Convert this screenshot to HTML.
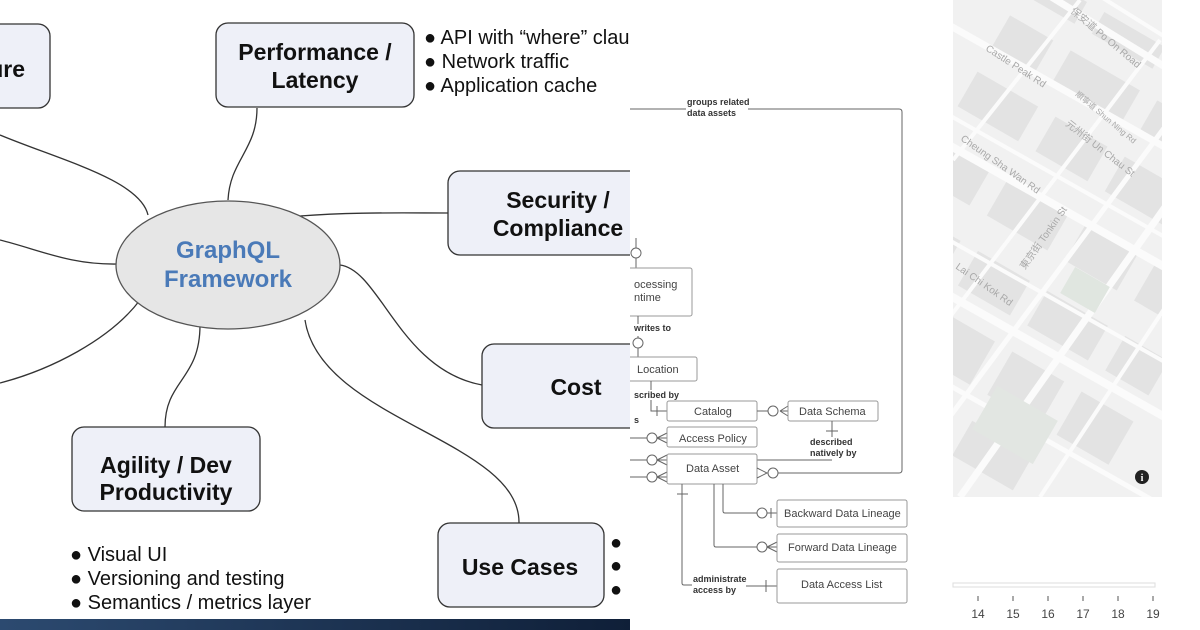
<!DOCTYPE html>
<html><head><meta charset="utf-8"><style>
html,body{margin:0;padding:0;background:#fff;}
svg{display:block;font-family:"Liberation Sans","Noto Sans CJK SC",sans-serif;}
.b{font-weight:bold;fill:#111;font-size:23px;text-anchor:middle;}
.bl{font-size:20px;fill:#111;}
.er{font-size:11px;fill:#444;}
.el{font-size:9px;font-weight:bold;fill:#333;}
.erbox{fill:#fff;stroke:#999;stroke-width:1;}
.ln{fill:none;stroke:#666;stroke-width:1;}
.mm{fill:none;stroke:#333;stroke-width:1.3;}
.box{fill:#eef0f8;stroke:#333;stroke-width:1.3;}
</style></head><body>
<svg width="1200" height="630" viewBox="0 0 1200 630" xmlns="http://www.w3.org/2000/svg">
<defs><clipPath id="lc"><rect x="0" y="0" width="630" height="630"/></clipPath>
<clipPath id="mc"><rect x="953" y="0" width="209" height="497"/></clipPath>
<clipPath id="ec"><rect x="630" y="0" width="323" height="630"/></clipPath>
<linearGradient id="bar" x1="0" x2="1"><stop offset="0" stop-color="#2c4a70"/><stop offset="1" stop-color="#0f1f38"/></linearGradient></defs>

<g clip-path="url(#lc)">
<path class="mm" d="M0,135 C60,160 140,180 148,215"/>
<path class="mm" d="M0,240 C40,250 70,265 118,264"/>
<path class="mm" d="M0,383 C50,370 110,340 140,300"/>
<path class="mm" d="M257,108 C257,150 230,160 228,200"/>
<path class="mm" d="M300,216 C350,212 400,213 448,213"/>
<path class="mm" d="M340,265 C380,270 400,370 482,385"/>
<path class="mm" d="M200,325 C200,380 165,380 165,427"/>
<path class="mm" d="M305,320 C320,420 520,440 519,523"/>
<rect class="box" x="-20" y="24" width="70" height="84" rx="12"/>
<text class="b" x="25" y="77" style="text-anchor:end">ure</text>
<rect class="box" x="216" y="23" width="198" height="84" rx="12"/>
<text class="b" x="315" y="60">Performance /</text>
<text class="b" x="315" y="88">Latency</text>
<rect class="box" x="448" y="171" width="200" height="84" rx="12"/>
<text class="b" x="558" y="208">Security /</text>
<text class="b" x="558" y="236">Compliance</text>
<rect class="box" x="482" y="344" width="170" height="84" rx="12"/>
<text class="b" x="576" y="395">Cost</text>
<rect class="box" x="72" y="427" width="188" height="84" rx="12"/>
<text class="b" x="166" y="473">Agility / Dev</text>
<text class="b" x="166" y="500">Productivity</text>
<rect class="box" x="438" y="523" width="166" height="84" rx="12"/>
<text class="b" x="520" y="575">Use Cases</text>
<ellipse cx="228" cy="265" rx="112" ry="64" fill="#e6e6e6" stroke="#555" stroke-width="1.3"/>
<text class="b" x="228" y="258" style="fill:#4a7ab8;font-size:24px">GraphQL</text>
<text class="b" x="228" y="287" style="fill:#4a7ab8;font-size:24px">Framework</text>
<text class="bl" x="424" y="44">● API with “where” clause</text>
<text class="bl" x="424" y="68">● Network traffic</text>
<text class="bl" x="424" y="92">● Application cache</text>
<text class="bl" x="70" y="561">● Visual UI</text>
<text class="bl" x="70" y="585">● Versioning and testing</text>
<text class="bl" x="70" y="609">● Semantics / metrics layer</text>
<text class="bl" x="610" y="549">●</text>
<text class="bl" x="610" y="572">●</text>
<text class="bl" x="610" y="596">●</text>
<rect x="0" y="619" width="630" height="11" fill="url(#bar)"/>
</g>

<g clip-path="url(#ec)">
<path class="ln" d="M630,109 H686 M748,109 H899 q3,0 3,3 V470 q0,3 -3,3 H773"/>
<text class="el" x="687" y="105">groups related</text>
<text class="el" x="687" y="116">data assets</text>
<path class="ln" d="M636,238 V248 M636,258 V268"/>
<circle cx="636" cy="253" r="5" fill="#fff" stroke="#666"/>
<rect class="erbox" x="620" y="268" width="72" height="48" rx="2"/>
<text class="er" x="634" y="288">ocessing</text>
<text class="er" x="634" y="301">ntime</text>
<path class="ln" d="M638,316 V324 M638,336 V357"/>
<text class="el" x="634" y="331">writes to</text>
<circle cx="638" cy="343" r="5" fill="#fff" stroke="#666"/>
<rect class="erbox" x="620" y="357" width="77" height="24" rx="2"/>
<text class="er" x="637" y="373">Location</text>
<path class="ln" d="M651,381 V390 M651,400 V411 H667 M657,406 V416"/>
<text class="el" x="634" y="398">scribed by</text>
<text class="el" x="634" y="423">s</text>
<rect class="erbox" x="667" y="401" width="90" height="20" rx="2"/>
<text class="er" x="694" y="415">Catalog</text>
<path class="ln" d="M757,411 H770 M780,411 H788 M780,411 L788,406 M780,411 L788,416"/>
<circle cx="773" cy="411" r="5" fill="#fff" stroke="#666"/>
<rect class="erbox" x="788" y="401" width="90" height="20" rx="2"/>
<text class="er" x="799" y="415">Data Schema</text>
<path class="ln" d="M832,421 V437 M826,431 H838 M757,460 H832"/>
<text class="el" x="810" y="445">described</text>
<text class="el" x="810" y="456">natively by</text>
<path class="ln" d="M630,438 H647 M657,438 H667 M657,438 L667,433 M657,438 L667,443"/>
<circle cx="652" cy="438" r="5" fill="#fff" stroke="#666"/>
<rect class="erbox" x="667" y="427" width="90" height="20" rx="2"/>
<text class="er" x="679" y="442">Access Policy</text>
<path class="ln" d="M630,460 H647 M657,460 H667 M657,460 L667,455 M657,460 L667,465 M630,477 H647 M657,477 H667 M657,477 L667,472 M657,477 L667,482"/>
<circle cx="652" cy="460" r="5" fill="#fff" stroke="#666"/>
<circle cx="652" cy="477" r="5" fill="#fff" stroke="#666"/>
<rect class="erbox" x="667" y="454" width="90" height="30" rx="2"/>
<text class="er" x="686" y="472">Data Asset</text>
<path class="ln" d="M757,468 L767,473 L757,478"/>
<circle cx="773" cy="473" r="5" fill="#fff" stroke="#666"/>
<path class="ln" d="M723,484 V511 q0,2 2,2 H757 M767,513 H777 M771,508 V518"/>
<circle cx="762" cy="513" r="5" fill="#fff" stroke="#666"/>
<path class="ln" d="M714,484 V545 q0,2 2,2 H757 M767,547 H777 M767,547 L777,542 M767,547 L777,552"/>
<circle cx="762" cy="547" r="5" fill="#fff" stroke="#666"/>
<path class="ln" d="M682,484 V583 q0,2 2,2 H692 M746,586 H777 M677,494 H688 M766,580 V592"/>
<text class="el" x="693" y="582">administrate</text>
<text class="el" x="693" y="593">access by</text>
<rect class="erbox" x="777" y="500" width="130" height="27" rx="2"/>
<text class="er" x="784" y="517">Backward Data Lineage</text>
<rect class="erbox" x="777" y="534" width="130" height="28" rx="2"/>
<text class="er" x="788" y="551">Forward Data Lineage</text>
<rect class="erbox" x="777" y="569" width="130" height="34" rx="2"/>
<text class="er" x="801" y="588">Data Access List</text>
</g>

<g clip-path="url(#mc)">
<rect x="953" y="0" width="209" height="497" fill="#f1f1f1"/>
<g fill="#e3e3e3" transform="rotate(30 1057 248)">
<rect x="900" y="20" width="60" height="25"/><rect x="980" y="20" width="70" height="25"/><rect x="1070" y="20" width="60" height="25"/><rect x="1150" y="20" width="60" height="25"/>
<rect x="900" y="70" width="50" height="35"/><rect x="970" y="70" width="80" height="35"/><rect x="1070" y="70" width="50" height="35"/><rect x="1140" y="70" width="70" height="35"/>
<rect x="900" y="135" width="70" height="40"/><rect x="990" y="135" width="60" height="40"/><rect x="1070" y="135" width="70" height="40"/><rect x="1160" y="135" width="50" height="40"/>
<rect x="900" y="210" width="60" height="45"/><rect x="980" y="210" width="70" height="45"/><rect x="1070" y="210" width="60" height="45"/><rect x="1150" y="210" width="60" height="45"/>
<rect x="900" y="290" width="70" height="40"/><rect x="990" y="290" width="60" height="40"/><rect x="1070" y="290" width="70" height="40"/><rect x="1160" y="290" width="50" height="40"/>
<rect x="900" y="360" width="60" height="50"/><rect x="980" y="360" width="70" height="50"/><rect x="1070" y="360" width="60" height="50"/><rect x="1150" y="360" width="60" height="50"/>
<rect x="900" y="440" width="70" height="40"/><rect x="990" y="440" width="60" height="40"/><rect x="1070" y="440" width="70" height="40"/>
</g>
<g stroke="#fbfbfb" fill="none">
<path d="M940,20 L1170,150" stroke-width="7"/>
<path d="M940,110 L1170,240" stroke-width="4"/>
<path d="M940,140 L1170,270" stroke-width="8"/>
<path d="M940,235 L1170,365" stroke-width="4"/>
<path d="M940,290 L1170,420" stroke-width="8"/>
<path d="M940,380 L1170,510" stroke-width="5"/>
<path d="M1040,-10 L1170,70" stroke-width="7"/>
<path d="M1090,-10 L1170,40" stroke-width="4"/>
<path d="M1160,40 L940,330" stroke-width="4"/>
<path d="M1170,120 L940,430" stroke-width="5"/>
<path d="M1170,200 L960,497" stroke-width="7"/>
<path d="M1170,300 L1040,497" stroke-width="4"/>
<path d="M1080,0 L953,160" stroke-width="4"/>
</g>
<rect x="1065" y="275" width="40" height="30" fill="#e0e6e0" transform="rotate(30 1085 290)"/>
<rect x="980" y="400" width="70" height="50" fill="#e2e6e2" transform="rotate(30 1015 425)"/>
<g fill="#a8a8a8" font-size="10">
<text x="985" y="50" transform="rotate(33 985 50)">Castle Peak Rd</text>
<text x="1070" y="12" transform="rotate(40 1070 12)">保安道 Po On Road</text>
<text x="1075" y="95" transform="rotate(40 1075 95)" font-size="8">順寧道 Shun Ning Rd</text>
<text x="1065" y="125" transform="rotate(38 1065 125)">元州街 Un Chau St</text>
<text x="960" y="140" transform="rotate(35 960 140)">Cheung Sha Wan Rd</text>
<text x="1025" y="270" transform="rotate(-55 1025 270)">東京街 Tonkin St</text>
<text x="955" y="268" transform="rotate(35 955 268)">Lai Chi Kok Rd</text>
</g>
<circle cx="1142" cy="477" r="7" fill="#222"/>
<text x="1142" y="481" fill="#fff" font-size="10" font-weight="bold" text-anchor="middle" font-family="Liberation Serif,serif">i</text>
</g>
<rect x="953" y="583" width="202" height="4" fill="#fff" stroke="#ddd"/>
<g stroke="#555" stroke-width="1">
<path d="M978,596 V601 M1013,596 V601 M1048,596 V601 M1083,596 V601 M1118,596 V601 M1153,596 V601"/>
</g>
<g font-size="12" fill="#444" text-anchor="middle">
<text x="978" y="618">14</text><text x="1013" y="618">15</text><text x="1048" y="618">16</text>
<text x="1083" y="618">17</text><text x="1118" y="618">18</text><text x="1153" y="618">19</text>
</g>
</svg>
</body></html>
